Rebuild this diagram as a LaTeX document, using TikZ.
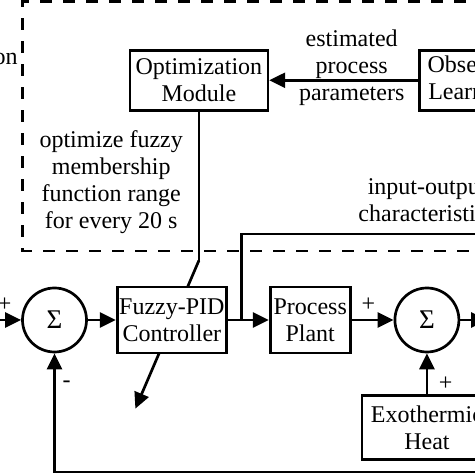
\documentclass[tikz,border=0pt]{standalone}
\usepackage{fontspec}
\setmainfont{Liberation Serif}
\usetikzlibrary{
  arrows.meta,
  positioning,
  calc,
  backgrounds
}

\begin{document}
\begin{tikzpicture}[
  x=1pt, y=1pt,
  node distance=14pt,
  every node/.style={font=\fontsize{12}{13.5}\selectfont, align=center},
  block/.style={draw, line width=1.35pt, fill=white, inner sep=1pt},
  sumnode/.style={draw, circle, line width=1.35pt, fill=white, minimum size=32pt,
    inner sep=0pt, font=\fontsize{13.5}{14}\selectfont},
  arr/.style={-{Triangle[length=8pt, width=7.5pt]}, line width=1.35pt},
  wire/.style={line width=1.35pt}
]
  \useasboundingbox (-27.25,-77) rectangle (209.75,160);

  % Main loop
  \node[sumnode] (sum1) at (0,0) {Σ};
  \node[block, minimum width=54pt, minimum height=33pt, right=14pt of sum1]
    (fuzzy) {Fuzzy-PID\\Controller};
  \node[block, minimum width=40pt, minimum height=33pt, right=20.5pt of fuzzy]
    (plant) {Process\\Plant};
  \node[sumnode, right=21pt of plant] (sum2) {Σ};
  \node[block, minimum width=65pt, minimum height=32pt, below=20.5pt of sum2]
    (exo) {Exothermic\\Heat};

  % Supervisory loop
  \node[block, minimum width=69pt, minimum height=30pt, above=87pt of fuzzy, xshift=13.5pt]
    (opt) {Optimization\\Module};
  \node[block, minimum width=52pt, minimum height=30pt, right=74.5pt of opt]
    (obs) {Observer\\Learning};

  % Dashed boundary
  \draw[dash pattern=on 6pt off 5.5pt, line width=1.35pt]
    (230,34.5) -- (-15.9,34.5) -- (-15.9,159.25) -- (230,159.25);
  \node[anchor=base east, inner sep=0pt] (side) at (-18.25,127.5) {on};

  % Free ends
  \coordinate (in) at (-45,0);
  \coordinate (out) at (216.25,0);
  \coordinate (fbend) at (230,-76);
  \coordinate (ioend) at (230,43);
  \coordinate (branch) at ([xshift=6.75pt]fuzzy.east);
  \coordinate (bend) at ([yshift=-74.5pt]opt.south);
  \coordinate (tip) at ([xshift=-31.75pt, yshift=-74pt]bend);

  % Arrows
  \draw[arr] (in) -- node[above, pos=0.71] {+} (sum1);
  \draw[arr] (sum1) -- (fuzzy);
  \draw[arr] (fuzzy) -- (plant);
  \draw[arr] (plant) -- node[above, pos=0.4] {+} (sum2);
  \draw[arr] (sum2) -- (out);
  \draw[arr] (exo) -- node[right=2pt, pos=0.27] {+} (sum2);
  \draw[arr] (fbend) -| node[right, pos=0.87] {-} (sum1);

  \draw[wire] (branch) |- node[above=2pt, pos=0.84] {input-output\\characteristics} (ioend);
  \draw[arr] (obs) -- node[xshift=4pt, yshift=6.25pt] {estimated\\process\\parameters} (opt);
  \draw[wire] (opt) -- node[left=4pt, pos=0.47]
    {optimize fuzzy\\membership\\function range\\for every 20 s} (bend);

  % Tuning arrow behind the controller
  \begin{scope}[on background layer]
    \draw[arr] (bend) -- (tip);
  \end{scope}

\end{tikzpicture}
\end{document}
